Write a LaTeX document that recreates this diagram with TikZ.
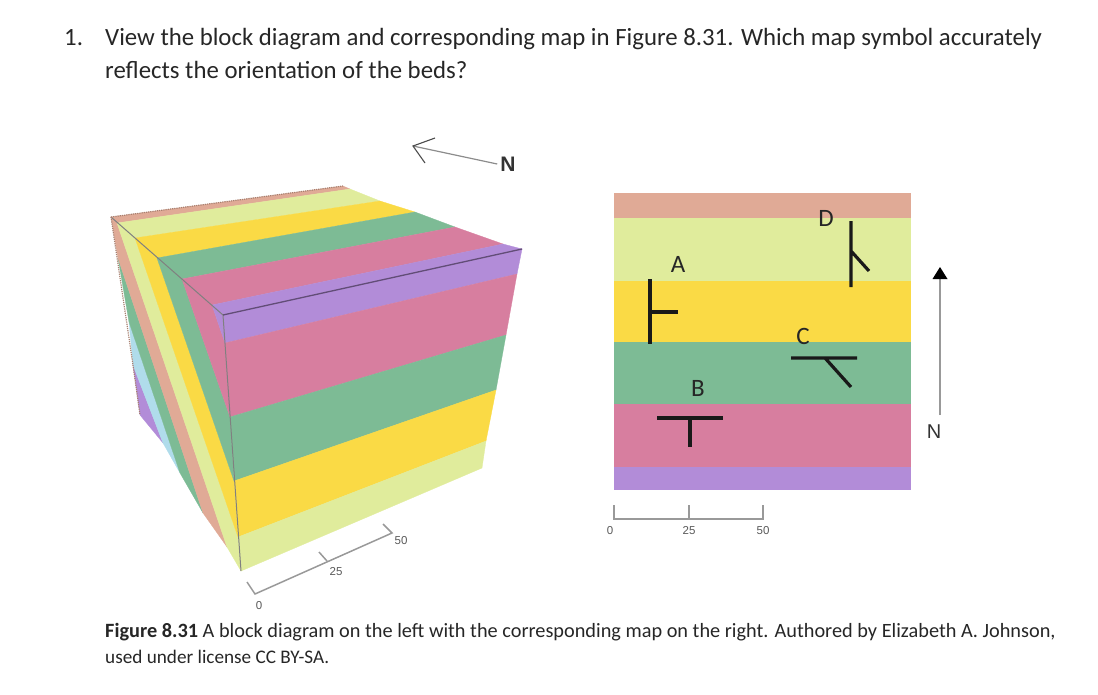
\documentclass[tikz,border=0pt]{standalone}
\usepackage{fontspec}
\setmainfont{Carlito}
\newfontfamily\figfont{Liberation Sans}
\usetikzlibrary{arrows.meta}

\begin{document}
\begin{tikzpicture}[x=1pt,y=-1pt,
  question/.style={anchor=base west,inner sep=0pt,font=\fontsize{24.8}{27}\selectfont,text=black!85},
  caption/.style={anchor=base west,inner sep=0pt,font=\fontsize{20.3}{22}\selectfont,text=black!85},
  map label/.style={inner sep=0pt,font=\fontsize{25}{27}\selectfont,text=black!85},
  north label/.style={inner sep=0pt,font=\figfont\fontsize{20}{22}\selectfont,text=black!80},
  scale label/.style={inner sep=0pt,font=\figfont\fontsize{11.5}{13}\selectfont,text=black!65},
  symbol/.style={line width=3.2pt,black!90},
  scale bar/.style={line width=1.5pt,black!40},
  cube edge/.style={line width=1pt,black!50},
  rim/.style={line width=1.2pt,densely dotted,salmon_bed!75!black}]

    \definecolor{salmon_bed}{HTML}{E0AA96}
    \definecolor{lime_bed}{HTML}{E0EC9C}
    \definecolor{yellow_bed}{HTML}{FADA45}
    \definecolor{green_bed}{HTML}{7DBB95}
    \definecolor{pink_bed}{HTML}{D77E9F}
    \definecolor{purple_bed}{HTML}{B28CD8}
    \definecolor{blue_bed}{HTML}{B0DCEB}

  \useasboundingbox (0,0) rectangle (1098,694);

  % Question text

  \node[question] (number) at (64,45.7) {1.};
  \node[question] (line one) at (105,45.7) {View the block diagram and corresponding map in Figure 8.31. Which map symbol accurately};
  \node[question] (line two) at (105,78.5) {reflects the orientation of the beds?};

  % Block diagram: top face

  \begin{scope}[line width=.3pt]
    \fill[salmon_bed,draw=salmon_bed] (111,217) -- (343,186) -- (350,189) -- (117,223) -- cycle;
    \fill[lime_bed,draw=lime_bed] (117,223) -- (350,189) -- (380,201) -- (135,238) -- cycle;
    \fill[yellow_bed,draw=yellow_bed] (135,238) -- (380,201) -- (415,212) -- (157,258) -- cycle;
    \fill[green_bed,draw=green_bed] (157,258) -- (415,212) -- (455,227) -- (182,279) -- cycle;
    \fill[pink_bed,draw=pink_bed] (182,279) -- (455,227) -- (503,244) -- (212,305) -- cycle;
    \fill[purple_bed,draw=purple_bed] (212,305) -- (503,244) -- (522,249) -- (223,315) -- cycle;
  \end{scope}

  % Block diagram: front face

  \begin{scope}[line width=.3pt]
    \fill[purple_bed,draw=purple_bed] (223,315) -- (522,249) -- (517,274) -- (225,343) -- cycle;
    \fill[pink_bed,draw=pink_bed] (225,343) -- (517,274) -- (506,335) -- (230,417) -- cycle;
    \fill[green_bed,draw=green_bed] (230,417) -- (506,335) -- (496,390) -- (234,481) -- cycle;
    \fill[yellow_bed,draw=yellow_bed] (234,481) -- (496,390) -- (486,441) -- (238,537) -- cycle;
    \fill[lime_bed,draw=lime_bed] (238,537) -- (486,441) -- (482,468) -- (241,571) -- cycle;
  \end{scope}

  % Block diagram: left face

  \begin{scope}[line width=.3pt]
    \fill[purple_bed,draw=purple_bed] (133,365) -- (140,415) -- (163,443) -- cycle;
    \fill[blue_bed,draw=blue_bed] (129,322) -- (133,365) -- (163,443) -- (180,473) -- cycle;
    \fill[green_bed,draw=green_bed] (118,258) -- (129,322) -- (180,473) -- (203,513) -- cycle;
    \fill[salmon_bed,draw=salmon_bed] (111,217) -- (118,258) -- (203,513) -- (227,547) -- (117,223) -- cycle;
    \fill[lime_bed,draw=lime_bed] (117,223) -- (227,547) -- (241,571) -- (238,537) -- (135,238) -- cycle;
    \fill[yellow_bed,draw=yellow_bed] (135,238) -- (238,537) -- (234,481) -- (157,258) -- cycle;
    \fill[green_bed,draw=green_bed] (157,258) -- (234,481) -- (230,417) -- (182,279) -- cycle;
    \fill[pink_bed,draw=pink_bed] (182,279) -- (230,417) -- (225,343) -- (212,305) -- cycle;
    \fill[purple_bed,draw=purple_bed] (212,305) -- (225,343) -- (223,315) -- cycle;
  \end{scope}

  % Edges of the block

  \draw[cube edge] (111,217) -- (223,315) -- (241,571);
  \draw[line width=1.3pt,purple_bed!55!black] (223,315) -- (522,249);
  \draw[rim] (111,217) -- (343,186);
  \draw[rim] (111,217) -- (133,365) -- (140,415);

  % North arrow and scale of the block

  \coordinate (block tip) at (413,146);
  \node[north label,font=\figfont\bfseries\fontsize{21}{23}\selectfont] (block north) at (508,164) {N};
  \draw[line width=1.2pt,black!45] (block north.west) ++(-3,0) -- (block tip);
  \draw[line width=1.1pt,black!70] (435,138) -- (block tip) -- (425,163);

  \node[scale label] (block zero) at (259,606) {0};
  \node[scale label] (block mid) at (336,572) {25};
  \node[scale label] (block end) at (401,541) {50};
  \draw[scale bar] (247,582) -- (255,594) -- (392,533) -- (383,524);
  \draw[scale bar] (327,561) -- (319,552);

  % Map beds

  \fill[salmon_bed] (614,193) rectangle (911,218);
  \fill[lime_bed] (614,218) rectangle (911,281);
  \fill[yellow_bed] (614,281) rectangle (911,342);
  \fill[green_bed] (614,342) rectangle (911,404);
  \fill[pink_bed] (614,404) rectangle (911,467);
  \fill[purple_bed] (614,467) rectangle (911,490);

  % Map symbols

  \draw[symbol] (650,279) -- (650,344) (650,312) -- (678,312);
  \node[map label] (a) at (678,264) {A};
  \draw[symbol] (657,418) -- (723,418) (690,418) -- (690,447);
  \node[map label] (b) at (698,388) {B};
  \draw[symbol] (791,358) -- (857,358) (825,358) -- (851,387);
  \node[map label] (c) at (803,336) {C};
  \draw[symbol] (851,221) -- (851,287) (851,251) -- (869,271);
  \node[map label] (d) at (826,218) {D};

  % North arrow and scale of the map

  \node[north label] (map north) at (934,432) {N};
  \coordinate (map tip) at (940,267);
  \draw[line width=1.2pt,black!40] (940,415) -- (940,275);
  \fill[black] (map tip) -- (947.5,279) -- (932.5,279) -- cycle;

  \node[scale label] (map zero) at (610,531) {0};
  \node[scale label] (map mid) at (689,531) {25};
  \node[scale label] (map end) at (763,531) {50};
  \draw[scale bar] (614,505) -- (614,519) -- (763,519) -- (763,505);
  \draw[scale bar] (689,505) -- (689,519);

  % Caption

  \node[caption] (caption one) at (105,637.7) {\textbf{Figure 8.31} A block diagram on the left with the corresponding map on the right. Authored by Elizabeth A. Johnson,};
  \node[caption,font=\fontsize{19.2}{22}\selectfont] (caption two) at (105,663.7) {used under license CC BY-SA.};

\end{tikzpicture}
\end{document}
